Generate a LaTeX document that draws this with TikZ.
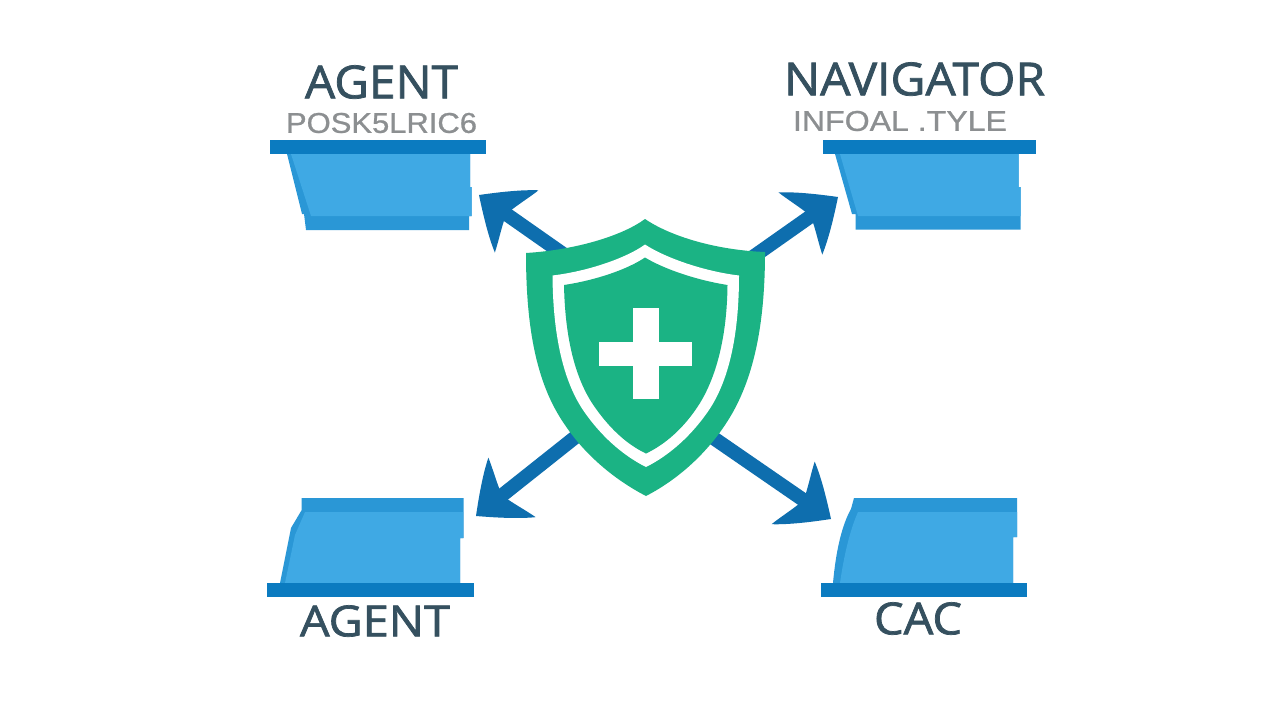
\documentclass[tikz,border=0pt]{standalone}
\usepackage{fontspec}
\setmainfont{Open Sans}
\newfontfamily\headfont[FakeBold=1.6]{Open Sans}
\newfontfamily\subfont[FakeBold=0.8]{Liberation Sans}
\usetikzlibrary{arrows.meta}
\definecolor{barblue}{HTML}{0B7BC0}
\definecolor{bodylight}{HTML}{3FA9E4}
\definecolor{bodydark}{HTML}{2A97D6}
\definecolor{arrowblue}{HTML}{0E6EAE}
\definecolor{shieldgreen}{HTML}{1BB384}
\definecolor{titlecol}{HTML}{35505F}
\definecolor{subcol}{HTML}{8C8F91}
\pgfdeclarearrow{
  name=Barb,
  setup code={%
    \pgfarrowssettipend{0pt}%
    \pgfarrowssetlineend{-30pt}%
    \pgfarrowssetvisualbackend{-34pt}%
    \pgfarrowssetbackend{-47pt}%
    \pgfarrowshullpoint{0pt}{0pt}%
    \pgfarrowshullpoint{-46pt}{38pt}%
    \pgfarrowshullpoint{-46pt}{-38pt}%
  },
  drawing code={%
    \pgfpathmoveto{\pgfqpoint{0pt}{0pt}}%
    \pgfpathcurveto{\pgfqpoint{-16pt}{15pt}}{\pgfqpoint{-32pt}{29pt}}{\pgfqpoint{-46pt}{38pt}}%
    \pgfpathcurveto{\pgfqpoint{-43pt}{28pt}}{\pgfqpoint{-38pt}{16pt}}{\pgfqpoint{-35pt}{6pt}}%
    \pgfpathlineto{\pgfqpoint{-35pt}{-6pt}}%
    \pgfpathcurveto{\pgfqpoint{-38pt}{-16pt}}{\pgfqpoint{-43pt}{-28pt}}{\pgfqpoint{-46pt}{-38pt}}%
    \pgfpathcurveto{\pgfqpoint{-32pt}{-29pt}}{\pgfqpoint{-16pt}{-15pt}}{\pgfqpoint{0pt}{0pt}}%
    \pgfpathclose\pgfusepathqfill
  },
}
\newcommand{\fittext}[3]{\resizebox{#1pt}{#2pt}{\fontsize{40}{40}\selectfont #3}}
\tikzset{
  bar/.style={fill=barblue},
  lightface/.style={fill=bodylight},
  darkface/.style={fill=bodydark},
  link/.style={line width=14pt,draw=arrowblue,fill=arrowblue,-Barb},
  title/.style={inner sep=0pt,text=titlecol,font=\headfont},
  subtitle/.style={inner sep=0pt,text=subcol,font=\subfont},
}
\begin{document}
\begin{tikzpicture}[x=1pt,y=-1pt]
\useasboundingbox (0,0) rectangle (1280,720);
\fill[white] (0,0) rectangle (1280,720);

% coordinates for connectors
\coordinate (shieldTL) at (566,256);
\coordinate (shieldTR) at (750,259);
\coordinate (shieldBL) at (578,435);
\coordinate (shieldBR) at (712,437);
\coordinate (boxTL) at (479,195);
\coordinate (boxTR) at (838,197);
\coordinate (boxBL) at (476,516);
\coordinate (boxBR) at (831,519);

% connectors
\draw[link] (shieldTL) -- (boxTL);
\draw[link] (shieldTR) -- (boxTR);
\draw[link] (shieldBL) -- (boxBL);
\draw[link] (shieldBR) -- (boxBR);

% top-left box
\fill[darkface] (287,154) -- (470,154) -- (470,187) -- (471.7,187) -- (471.7,216) -- (469,216) -- (469,230) -- (306,230) -- (304,214) -- (302,214) -- cycle;
\fill[lightface] (291,154) -- (470,154) -- (470,187) -- (471.7,187) -- (471.7,216) -- (311,216) -- cycle;
\fill[bar] (270,139.5) rectangle (485.7,154);

% top-right box
\fill[darkface] (835,154) -- (1018.7,154) -- (1018.7,187) -- (1020.7,187) -- (1020.7,229.5) -- (855.5,229.5) -- (855.5,214) -- (852,214) -- cycle;
\fill[lightface] (840,154) -- (1018.7,154) -- (1018.7,187) -- (1020.7,187) -- (1020.7,216) -- (858,216) -- cycle;
\fill[bar] (822.7,140) rectangle (1035.7,154);

% bottom-left box
\fill[darkface] (301.7,498) -- (463.5,498) -- (463.5,538) -- (460,538) -- (460,583) -- (280,583) -- (291,528) -- (301.7,510) -- cycle;
\fill[lightface] (305,512) -- (463,512) -- (463,538) -- (460,538) -- (460,583) -- (285,583) -- (295,535) -- cycle;
\fill[bar] (266.7,582.7) rectangle (474,596.7);

% bottom-right box
\fill[darkface] (854,498) -- (1017,498) -- (1017,537) -- (1013,537) -- (1013,583) -- (833,583) .. controls (836,550) and (842,525) .. (851,509) -- cycle;
\fill[lightface] (858,512) -- (1017,512) -- (1017,537) -- (1013,537) -- (1013,583) -- (840,583) .. controls (844,555) and (850,530) .. (858,512) -- cycle;
\fill[bar] (820.7,583) rectangle (1027,597);

% shield
\fill[shieldgreen] (645,219) .. controls (622,236) and (575,250) .. (526,253)
  .. controls (526,330) and (537,385) .. (565,425) .. controls (585,455) and (615,480) .. (646,496)
  .. controls (677,480) and (705,455) .. (725,425) .. controls (752,385) and (765,330) .. (765,252)
  .. controls (715,250) and (670,236) .. (645,219) -- cycle;
\fill[white] (645,244.5) .. controls (628,257) and (590,271) .. (552.5,275.5)
  .. controls (553,335) and (563,380) .. (583,410) .. controls (600,435) and (622,455) .. (646,467)
  .. controls (670,455) and (692,435) .. (709,410) .. controls (729,380) and (739,335) .. (739,275.5)
  .. controls (702,271) and (664,257) .. (645,244.5) -- cycle;
\fill[shieldgreen] (645,257.5) .. controls (628,269) and (597,280) .. (564,285)
  .. controls (565,335) and (574,375) .. (592,403) .. controls (608,427) and (626,444) .. (646,453.5)
  .. controls (666,444) and (685,427) .. (700,403) .. controls (717,375) and (727,335) .. (727.5,285)
  .. controls (696,280) and (664,269) .. (645,257.5) -- cycle;
\fill[white] (633.3,308.3) rectangle (659,399.3);
\fill[white] (599,341.7) rectangle (692,366);

% labels
\node[title] (agentTop) at (381.5,82) {\fittext{153}{33}{AGENT}};
\node[subtitle] (agentSub) at (381.5,123) {\fittext{191}{20}{POSK5LRIC6}};
\node[title] (navTop) at (914.5,79) {\fittext{261}{33}{NAVIGATOR}};
\node[subtitle] (navSub) at (900,121) {\fittext{214}{20}{INFOAL .TYLE}};
\node[title] (agentBot) at (375,621) {\fittext{150}{31}{AGENT}};
\node[title] (cacBot) at (918,618.5) {\fittext{88}{32}{CAC}};
\end{tikzpicture}
\end{document}
